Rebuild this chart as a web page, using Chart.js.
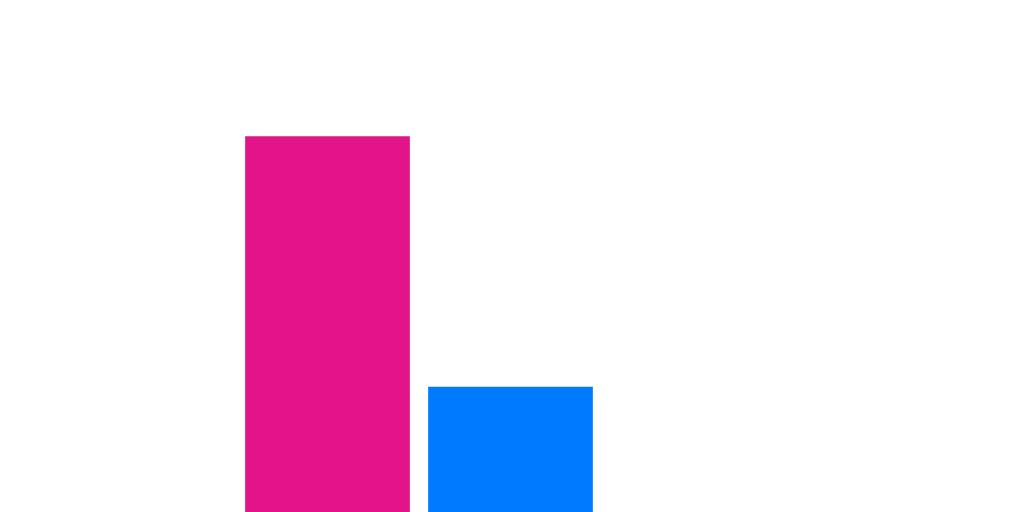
<!DOCTYPE html>
<html>
<head>
<meta charset="utf-8">
<style>
  html, body { margin: 0; padding: 0; background: #ffffff; }
  #wrap { width: 1024px; height: 512px; position: relative; }
</style>
<script src="https://cdn.jsdelivr.net/npm/chart.js@4/dist/chart.umd.min.js"></script>
</head>
<body>
<div id="wrap"><canvas id="barChart"></canvas></div>
<script>
(function () {
  'use strict';

  /* ---- data ---- */
  var categories = ['A', 'B'];
  var values = [3, 1];
  var barColors = ['#E3148A', '#007BFF'];
  var yMax = 4;

  var ctx = document.getElementById('barChart').getContext('2d');

  new Chart(ctx, {
    type: 'bar',
    data: {
      labels: categories,
      datasets: [{
        data: values,
        backgroundColor: barColors,
        borderWidth: 0,
        barPercentage: 0.9,
        categoryPercentage: 1.0
      }]
    },
    options: {
      responsive: true,
      maintainAspectRatio: false,
      animation: false,
      layout: {
        padding: { left: 236, right: 422, top: 11, bottom: 0 }
      },
      plugins: {
        legend: { display: false },
        tooltip: { enabled: false }
      },
      scales: {
        x: { display: false },
        y: { display: false, min: 0, max: yMax }
      }
    }
  });
})();
</script>
</body>
</html>
